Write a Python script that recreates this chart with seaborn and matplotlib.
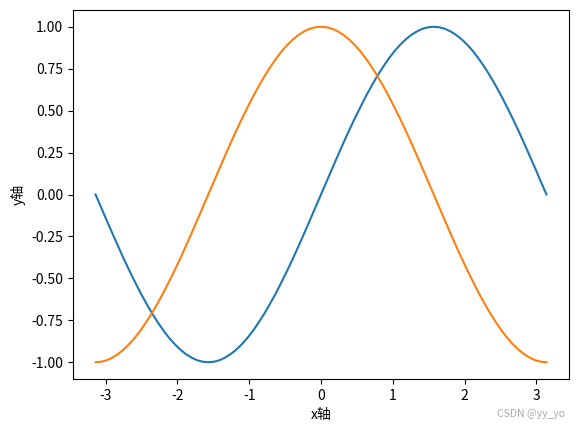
import seaborn as sns
import matplotlib
matplotlib.use("Agg")
import matplotlib.pyplot as plt

# values
x_vals = [-3.142, -3.063, -2.985, -2.906, -2.827, -2.749, -2.670, -2.592, -2.513, -2.435,
          -2.356, -2.278, -2.199, -2.121, -2.042, -1.963, -1.885, -1.806, -1.728, -1.649,
          -1.571, -1.492, -1.414, -1.335, -1.257, -1.178, -1.100, -1.021, -0.942, -0.864,
          -0.785, -0.707, -0.628, -0.550, -0.471, -0.393, -0.314, -0.236, -0.157, -0.079,
          0.000, 0.079, 0.157, 0.236, 0.314, 0.393, 0.471, 0.550, 0.628, 0.707,
          0.785, 0.864, 0.942, 1.021, 1.100, 1.178, 1.257, 1.335, 1.414, 1.492,
          1.571, 1.649, 1.728, 1.806, 1.885, 1.963, 2.042, 2.121, 2.199, 2.278,
          2.356, 2.435, 2.513, 2.592, 2.670, 2.749, 2.827, 2.906, 2.985, 3.063, 3.142]
sin_vals = [0.000, -0.078, -0.156, -0.233, -0.309, -0.383, -0.454, -0.522, -0.588, -0.649,
            -0.707, -0.760, -0.809, -0.853, -0.891, -0.924, -0.951, -0.972, -0.988, -0.997,
            -1.000, -0.997, -0.988, -0.972, -0.951, -0.924, -0.891, -0.853, -0.809, -0.760,
            -0.707, -0.649, -0.588, -0.522, -0.454, -0.383, -0.309, -0.233, -0.156, -0.078,
            0.000, 0.078, 0.156, 0.233, 0.309, 0.383, 0.454, 0.522, 0.588, 0.649,
            0.707, 0.760, 0.809, 0.853, 0.891, 0.924, 0.951, 0.972, 0.988, 0.997,
            1.000, 0.997, 0.988, 0.972, 0.951, 0.924, 0.891, 0.853, 0.809, 0.760,
            0.707, 0.649, 0.588, 0.522, 0.454, 0.383, 0.309, 0.233, 0.156, 0.078, 0.000]
cos_vals = [-1.000, -0.997, -0.988, -0.972, -0.951, -0.924, -0.891, -0.853, -0.809, -0.760,
            -0.707, -0.649, -0.588, -0.522, -0.454, -0.383, -0.309, -0.233, -0.156, -0.078,
            0.000, 0.078, 0.156, 0.233, 0.309, 0.383, 0.454, 0.522, 0.588, 0.649,
            0.707, 0.760, 0.809, 0.853, 0.891, 0.924, 0.951, 0.972, 0.988, 0.997,
            1.000, 0.997, 0.988, 0.972, 0.951, 0.924, 0.891, 0.853, 0.809, 0.760,
            0.707, 0.649, 0.588, 0.522, 0.454, 0.383, 0.309, 0.233, 0.156, 0.078,
            0.000, -0.078, -0.156, -0.233, -0.309, -0.383, -0.454, -0.522, -0.588, -0.649,
            -0.707, -0.760, -0.809, -0.853, -0.891, -0.924, -0.951, -0.972, -0.988, -0.997, -1.000]

plt.rcParams['font.family'] = ['Noto Sans CJK SC', 'DejaVu Sans']
plt.rcParams['axes.unicode_minus'] = False

fig = plt.figure(figsize=(5.79, 4.29), dpi=100)
ax = fig.add_axes([73 / 579, 50 / 429, 496 / 579, 369 / 429])

sns.lineplot(x=x_vals, y=sin_vals, ax=ax, color='C0')
sns.lineplot(x=x_vals, y=cos_vals, ax=ax, color='C1')

ax.set_xlabel('x轴')
ax.set_ylabel('y轴')

fig.text(0.975, 0.035, 'CSDN @yy_yo', ha='right', va='center', color='#aaaaaa', fontsize=7.5)

plt.savefig('out.png', dpi=100)
